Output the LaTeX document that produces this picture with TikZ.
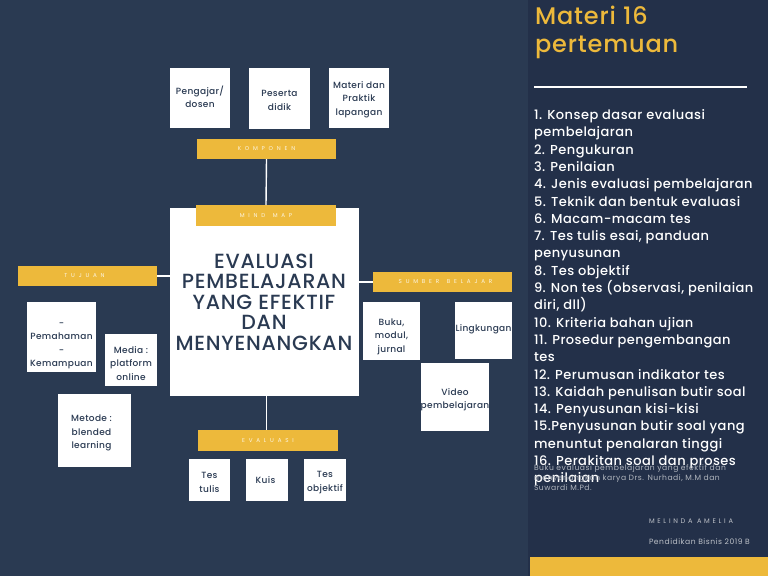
\documentclass[tikz,border=0pt]{standalone}
\usepackage{fontspec}
\setmainfont{Poppins}
\newfontfamily\medium[UprightFont=* Medium, LetterSpace=3.6]{Poppins}
\newfontfamily\barfont[LetterSpace=41]{Poppins}
\newfontfamily\smallfont[LetterSpace=7]{Poppins}
\usetikzlibrary{calc, positioning}
\definecolor{navy}{HTML}{2A3A52}
\definecolor{panel}{HTML}{233049}
\definecolor{gold}{HTML}{EDB93B}
\definecolor{ink}{HTML}{2A3A52}
\newcommand{\cardtext}[3][0]{\smash{\raisebox{#2pt}{\makebox[0pt]{\hspace*{#1pt}\parbox{90pt}{\centering #3}}}}}

\begin{document}
\begin{tikzpicture}[x=1pt, y=-1pt, every node/.style={inner sep=0pt, outer sep=0pt}]
  % Define styles
  \tikzstyle{card} = [rectangle, fill=white, text=ink, align=center, anchor=north west, font=\fontsize{9}{13.6}\medium]
  \tikzstyle{band} = [rectangle, fill=gold, text=white!85!gold, align=center, anchor=north west, minimum width=139pt, minimum height=20pt, font=\fontsize{5.6}{7}\barfont]
  \tikzstyle{link} = [draw=white, line width=1.4pt]
  \tikzstyle{listing} = [text=white, align=left, anchor=north west, font=\fontsize{13}{17.3}\medium]

  % Background
  \fill [navy] (0,0) rectangle (768,576);
  \fill [panel] (528,0) rectangle (768,576);
  \fill [gold] (530,557) rectangle (768,576);
  \useasboundingbox (0,0) rectangle (768,576);

  % Place nodes
  \node [card, minimum width=189pt, minimum height=188pt] (main) at (170,208) {};
  \node [text=ink, align=center, font=\fontsize{20.5}{20.5}\medium] (title) at (264,302) {EVALUASI\\PEMBELAJARAN\\YANG EFEKTIF\\DAN\\MENYENANGKAN};
  \node [band, minimum width=140pt, minimum height=21pt] (mindmap) at (196,205) {M I N D\ \ M A P};
  \node [band] (komponen) at (197,139) {K O M P O N E N};
  \node [band] (tujuan) at (18,266) {\hspace*{-6pt}T U J U A N};
  \node [band] (sumber) at (373,272) {\hspace*{6pt}S U M B E R\ \ B E L A J A R};
  \node [band, minimum width=140pt, minimum height=21pt] (evaluasi) at (198,430) {E V A L U A S I};

  \node [card, minimum width=60pt, minimum height=60pt] (pengajar) at (170,68) {\cardtext{-1}{Pengajar/\\dosen}};
  \node [card, minimum width=61pt, minimum height=61pt] (peserta) at (249,68) {\cardtext{-4}{Peserta\\didik}};
  \node [card, minimum width=60pt, minimum height=60pt] (materi) at (329,68) {\cardtext{-4}{Materi dan\\Praktik\\lapangan}};

  \node [card, minimum width=69pt, minimum height=70pt] (pemahaman) at (27,302) {\cardtext{-11}{-\\Pemahaman\\-\\Kemampuan}};
  \node [card, minimum width=52pt, minimum height=52pt] (media) at (105,334) {\cardtext{-5.5}{Media :\\platform\\online}};
  \node [card, minimum width=73pt, minimum height=73pt] (metode) at (58,394) {\cardtext[-6]{-5}{Metode :\\blended\\learning}};

  \node [card, minimum width=57pt, minimum height=58pt] (buku) at (363,302) {\cardtext{-8}{Buku,\\modul,\\jurnal}};
  \node [card, minimum width=57pt, minimum height=57pt] (lingkungan) at (455,302) {\cardtext{-1.5}{Lingkungan}};
  \node [card, minimum width=68pt, minimum height=68pt] (video) at (421,363) {\cardtext{-5}{Video\\pembelajaran}};

  \node [card, minimum width=41pt, minimum height=42pt] (testulis) at (189,459) {\cardtext{-4.5}{Tes\\tulis}};
  \node [card, minimum width=42pt, minimum height=42pt] (kuis) at (246,459) {\cardtext[-3]{-2.5}{Kuis}};
  \node [card, minimum width=42pt, minimum height=42pt] (tesobjektif) at (304,459) {\cardtext{-4.5}{Tes\\objektif}};

  % Right panel
  \node [text=gold, align=left, anchor=north west, font=\fontsize{24}{28}\medium] (judul) at (535,6) {Materi 16\\pertemuan};
  \node [listing] (daftar) at (534,109.5) {1. Konsep dasar evaluasi\\pembelajaran\\2. Pengukuran\\3. Penilaian\\4. Jenis evaluasi pembelajaran\\5. Teknik dan bentuk evaluasi\\6. Macam-macam tes\\7. Tes tulis esai, panduan\\penyusunan\\8. Tes objektif\\9. Non tes (observasi, penilaian\\diri, dll)\\10. Kriteria bahan ujian\\11. Prosedur pengembangan\\tes\\12. Perumusan indikator tes\\13. Kaidah penulisan butir soal\\14. Penyusunan kisi-kisi\\15.Penyusunan butir soal yang\\menuntut penalaran tinggi\\16. Perakitan soal dan proses\\penilaian};
  \node [text=white!65!panel, align=left, anchor=north west, font=\fontsize{7.6}{10}\smallfont] (sumberbuku) at (534,465) {Buku evaluasi pembelajaran yang efektif dan\\menyenangkan karya Drs. Nurhadi, M.M dan\\Suwardi M.Pd.};
  \node [text=white!70!panel, anchor=north west, font=\fontsize{6.6}{8}\barfont] (nama) at (649,519) {MELINDA AMELIA};
  \node [text=white!70!panel, anchor=north west, font=\fontsize{7.6}{9}\smallfont] (kelas) at (649,539) {Pendidikan Bisnis 2019 B};
  \coordinate (garisa) at (534,87);
  \coordinate (garisb) at (747,87);

  % Draw edges
  \path [link] (komponen.south) -- (mindmap.north);
  \path [link] (tujuan.east) -- (tujuan.east -| main.west);
  \path [link] (main.east |- sumber.west) -- (sumber.west);
  \path [link, line width=1pt] (main.south -| komponen.south) -- (evaluasi.north -| komponen.south);
  \path [link, line width=2pt] (garisa) -- (garisb);
\end{tikzpicture}
\end{document}
